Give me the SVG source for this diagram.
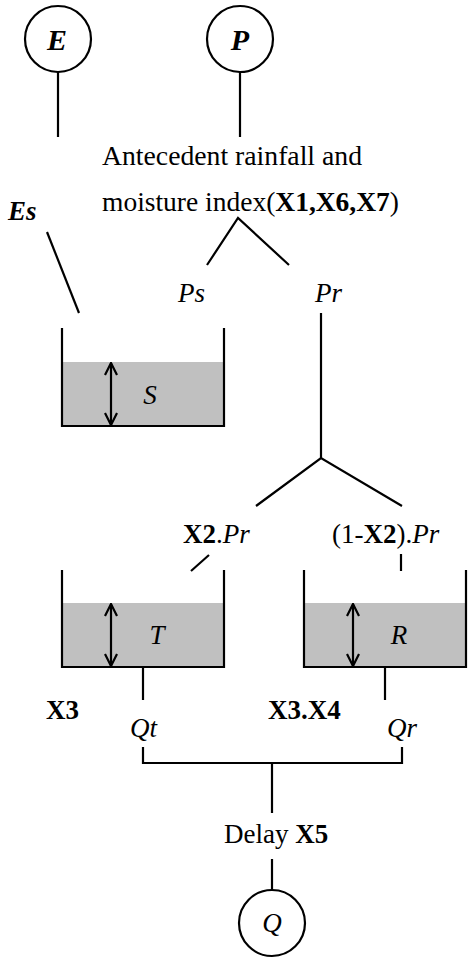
<svg xmlns="http://www.w3.org/2000/svg" width="474" height="968" viewBox="0 0 474 968">
<style>
text{font-family:"Liberation Serif","Times New Roman",serif;font-size:27px;fill:#000}
.i{font-style:italic}
.b{font-weight:bold}
.bi{font-style:italic;font-weight:bold}
.big{font-size:30px}
.ln{stroke:#000;stroke-width:2.2;fill:none}
.c{fill:#fff;stroke:#000;stroke-width:2.2}
.w{fill:#c0c0c0;stroke:none}
.m{text-anchor:middle}
</style>
<defs>
<marker id="ah" viewBox="0 0 14 14" refX="13" refY="7" markerWidth="14" markerHeight="14" markerUnits="userSpaceOnUse" orient="auto-start-reverse">
<path d="M1,1 L13,7 L1,13" fill="none" stroke="#000" stroke-width="2.2"/>
</marker>
</defs>
<g id="connectors">
<line class="ln" x1="58" y1="72" x2="58" y2="137"/>
<line class="ln" x1="240" y1="72" x2="240" y2="137"/>
<line class="ln" x1="47" y1="232" x2="79" y2="313"/>
<polyline class="ln" points="207,265 238,218 289,265"/>
<line class="ln" x1="321" y1="313" x2="321" y2="458"/>
<polyline class="ln" points="256,506 321,458 402,506"/>
<line class="ln" x1="209" y1="555" x2="191" y2="571"/>
<line class="ln" x1="401" y1="554" x2="401" y2="571"/>
<line class="ln" x1="143" y1="667" x2="143" y2="700"/>
<line class="ln" x1="385" y1="667" x2="385" y2="700"/>
<polyline class="ln" points="143,747 143,763 402,763 402,747"/>
<line class="ln" x1="272" y1="763" x2="272" y2="813"/>
<line class="ln" x1="272" y1="859" x2="272" y2="892"/>
</g>
<g id="node-E">
<circle class="c" cx="58" cy="39" r="33"/>
<text class="bi m big" x="57" y="50">E</text>
</g>
<g id="node-P">
<circle class="c" cx="240" cy="39" r="33"/>
<text class="bi m big" x="240" y="50">P</text>
</g>
<g id="node-antecedent">
<text x="102" y="165" textLength="260" lengthAdjust="spacingAndGlyphs">Antecedent rainfall and</text>
<text x="102" y="211" textLength="297" lengthAdjust="spacingAndGlyphs">moisture index(<tspan class="b">X1,X6,X7</tspan>)</text>
</g>
<g id="label-Es"><text class="bi" x="8" y="220">Es</text></g>
<g id="label-Ps"><text class="i" x="178" y="302">Ps</text></g>
<g id="label-Pr"><text class="i" x="315" y="302">Pr</text></g>
<g id="node-S">
<rect class="w" x="62" y="362" width="162" height="64"/>
<polyline class="ln" points="62,328 62,426 224,426 224,328"/>
<line class="ln" x1="111" y1="363" x2="111" y2="425" marker-start="url(#ah)" marker-end="url(#ah)"/>
<text class="i m" x="150" y="404">S</text>
</g>
<g id="label-X2Pr"><text x="183" y="543"><tspan class="b">X2</tspan>.<tspan class="i">Pr</tspan></text></g>
<g id="label-1X2Pr"><text x="332" y="543">(1-<tspan class="b">X2</tspan>).<tspan class="i">Pr</tspan></text></g>
<g id="node-T">
<rect class="w" x="62" y="603" width="162" height="64"/>
<polyline class="ln" points="62,570 62,667 224,667 224,570"/>
<line class="ln" x1="111" y1="604" x2="111" y2="666" marker-start="url(#ah)" marker-end="url(#ah)"/>
<text class="i m" x="157" y="644">T</text>
</g>
<g id="node-R">
<rect class="w" x="304" y="603" width="162" height="64"/>
<polyline class="ln" points="304,570 304,667 466,667 466,570"/>
<line class="ln" x1="353" y1="604" x2="353" y2="666" marker-start="url(#ah)" marker-end="url(#ah)"/>
<text class="i m" x="399" y="644">R</text>
</g>
<g id="label-X3"><text class="b" x="46" y="719">X3</text></g>
<g id="label-X3X4"><text class="b" x="268" y="719">X3.X4</text></g>
<g id="label-Qt"><text class="i" x="130" y="737">Qt</text></g>
<g id="label-Qr"><text class="i" x="387" y="737">Qr</text></g>
<g id="label-delay"><text x="224" y="843">Delay <tspan class="b">X5</tspan></text></g>
<g id="node-Q">
<circle class="c" cx="272" cy="923" r="33"/>
<text class="i m" x="272" y="932">Q</text>
</g>
</svg>
